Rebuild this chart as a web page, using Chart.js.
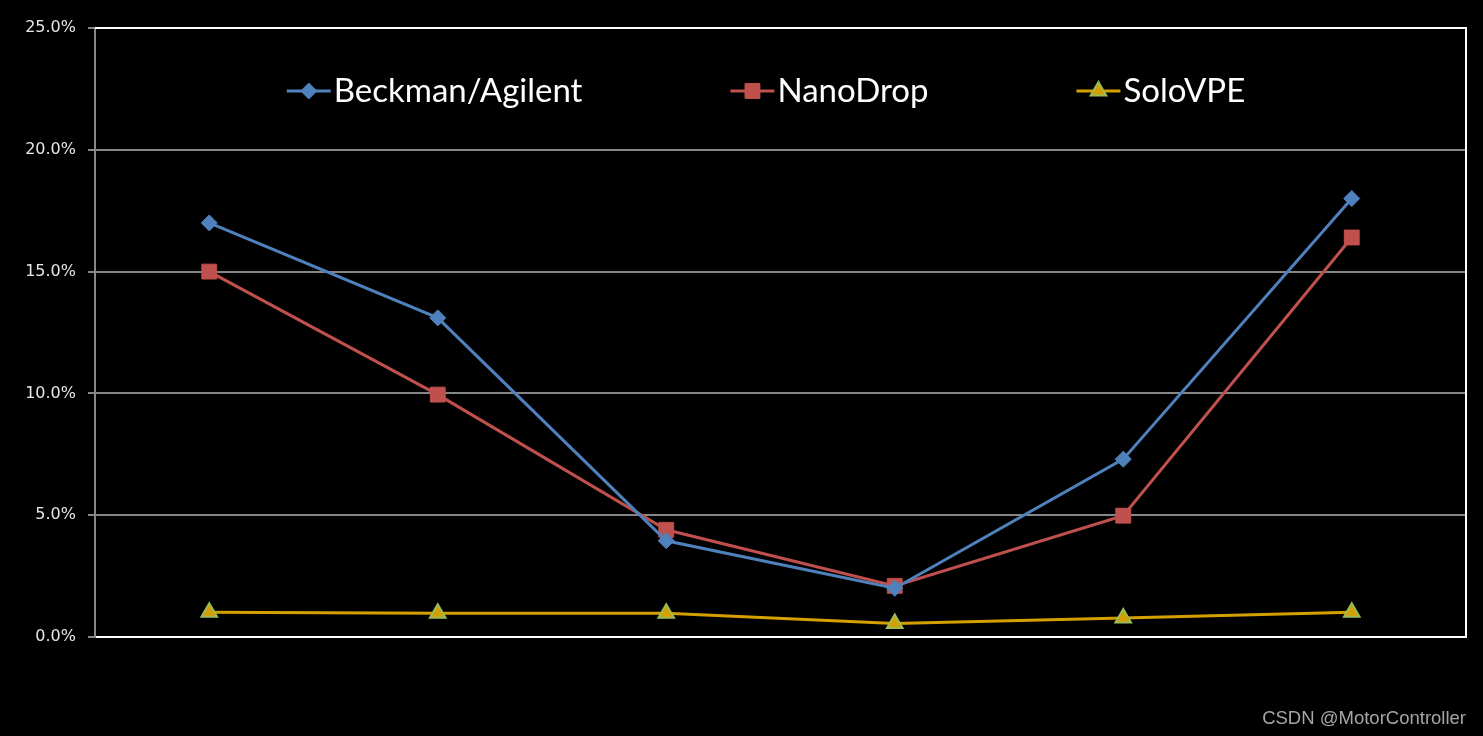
<!DOCTYPE html>
<html>
<head>
<meta charset="utf-8">
<script src="https://cdn.jsdelivr.net/npm/chart.js@4/dist/chart.umd.min.js"></script>
<style>
    html, body { margin: 0; padding: 0; background: #000; }
    #wrap { position: relative; width: 1483px; height: 736px; }
    #mark { position: absolute; right: 17px; bottom: 7px; color: #a6a6a6;
            font: 18.5px "Liberation Sans", Arial, sans-serif; }
</style>
</head>
<body>
<div id="wrap">
    <canvas id="chart" width="1483" height="736"></canvas>
    <div id="mark">CSDN @MotorController</div>
</div>
<script>
// data (percent)
const categories = ['1', '2', '3', '4', '5', '6'];
const beckman = [17.0, 13.1, 3.95, 2.0, 7.3, 18.0];
const nanodrop = [15.0, 9.95, 4.4, 2.1, 4.98, 16.4];
const solovpe = [1.02, 0.98, 0.98, 0.55, 0.78, 1.02];
const yTicks = [0, 5, 10, 15, 20, 25];

const labelFont = 'Lato, "Open Sans", sans-serif';

// white frame on top and right, like the excel plot area
const framePlugin = {
    id: 'frame',
    beforeDatasetsDraw(chart) {
        const a = chart.chartArea;
        const ctx = chart.ctx;
        ctx.save();
        ctx.strokeStyle = '#ffffff';
        ctx.lineWidth = 2;
        ctx.beginPath();
        ctx.moveTo(a.left, a.top);
        ctx.lineTo(a.right, a.top);
        ctx.lineTo(a.right, a.bottom);
        ctx.stroke();
        ctx.restore();
    }
};

// legend inside the plot: line + marker + label
const legendPlugin = {
    id: 'insideLegend',
    afterDatasetsDraw(chart) {
        const ctx = chart.ctx;
        const sets = chart.data.datasets;
        const lineLen = 44, textGap = 3, itemGap = 148, y = 91, center = 766;
        ctx.save();
        ctx.font = '33px ' + labelFont;
        const widths = sets.map(d => lineLen + textGap + ctx.measureText(d.label).width);
        const total = widths.reduce((s, w) => s + w, 0) + itemGap * (sets.length - 1);
        let x = center - total / 2;
        sets.forEach((d, i) => {
            ctx.strokeStyle = d.borderColor;
            ctx.lineWidth = d.borderWidth;
            ctx.beginPath();
            ctx.moveTo(x, y);
            ctx.lineTo(x + lineLen, y);
            ctx.stroke();
            ctx.fillStyle = d.pointBackgroundColor;
            ctx.strokeStyle = d.pointBorderColor;
            ctx.lineWidth = d.pointBorderWidth;
            Chart.helpers.drawPoint(ctx, {
                pointStyle: d.pointStyle,
                radius: d.pointRadius,
                rotation: 0,
                borderWidth: d.pointBorderWidth
            }, x + lineLen / 2, y);
            ctx.fillStyle = '#ffffff';
            ctx.textBaseline = 'middle';
            ctx.fillText(d.label, x + lineLen + textGap, y);
            x += widths[i] + itemGap;
        });
        ctx.restore();
    }
};

const ctx = document.getElementById('chart').getContext('2d');

new Chart(ctx, {
    type: 'line',
    data: {
        labels: categories,
        datasets: [{
            label: 'Beckman/Agilent',
            data: beckman,
            borderColor: '#4f81bd',
            borderWidth: 3,
            pointStyle: 'rectRot',
            pointRadius: 8,
            pointBackgroundColor: '#4f81bd',
            pointBorderColor: '#4f81bd',
            pointBorderWidth: 1,
            tension: 0
        }, {
            label: 'NanoDrop',
            data: nanodrop,
            borderColor: '#c0504d',
            borderWidth: 3,
            pointStyle: 'rect',
            pointRadius: 10.5,
            pointBackgroundColor: '#c0504d',
            pointBorderColor: '#c0504d',
            pointBorderWidth: 1,
            tension: 0
        }, {
            label: 'SoloVPE',
            data: solovpe,
            borderColor: '#d4a000',
            borderWidth: 3,
            pointStyle: 'triangle',
            pointRadius: 9,
            pointBackgroundColor: '#d4a000',
            pointBorderColor: '#9bbb59',
            pointBorderWidth: 2,
            tension: 0
        }]
    },
    options: {
        responsive: false,
        animation: false,
        layout: { padding: { left: 0, right: 17, top: 28, bottom: 99 } },
        plugins: {
            legend: { display: false },
            tooltip: { enabled: false }
        },
        scales: {
            x: {
                offset: true,
                ticks: { display: false },
                grid: { display: false, drawTicks: false },
                border: { color: '#ffffff', width: 2 },
                afterFit: function (scale) { scale.height = 0; }
            },
            y: {
                min: 0,
                max: 25,
                afterBuildTicks: function (scale) {
                    scale.ticks = yTicks.map(v => ({ value: v }));
                },
                ticks: {
                    color: '#e6e6e6',
                    padding: 12,
                    font: { family: '"DejaVu Sans", sans-serif', size: 16 },
                    callback: function (v) { return v.toFixed(1) + '%'; }
                },
                grid: { color: '#868686', lineWidth: 2, tickLength: 7 },
                border: { color: '#868686', width: 2 },
                afterFit: function (scale) { scale.width = 95; }
            }
        }
    },
    plugins: [framePlugin, legendPlugin]
});
</script>
</body>
</html>
